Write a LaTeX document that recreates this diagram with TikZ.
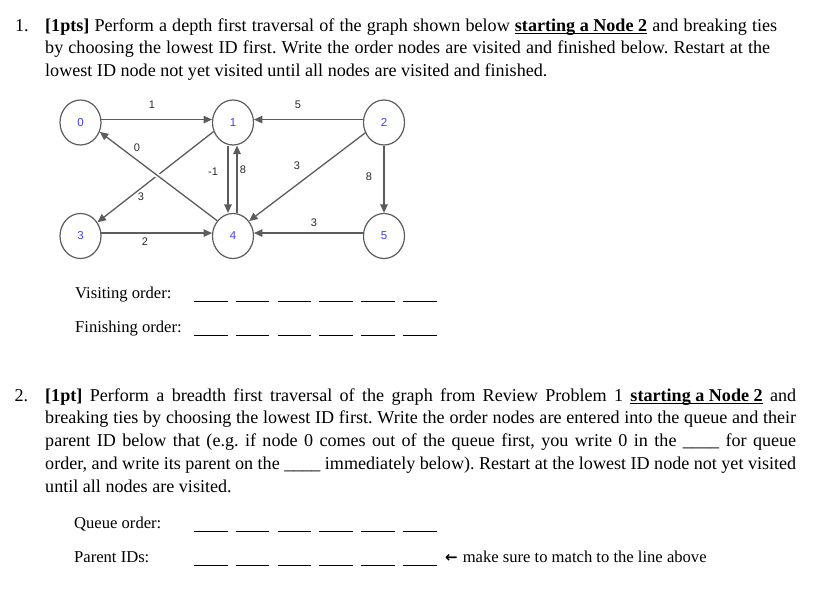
\documentclass[tikz,border=0pt]{standalone}
\usepackage{fontspec}
\setmainfont{Liberation Serif}
\newfontfamily\graphfont{Liberation Sans}
\newfontfamily\arrowfont{DejaVu Sans}
\usetikzlibrary{arrows.meta,shapes.geometric}
\definecolor{edgegray}{RGB}{92,92,92}
\definecolor{idblue}{RGB}{64,64,240}
\definecolor{wtink}{RGB}{45,40,35}
\newcommand\ulbold[1]{\setbox0=\hbox{\bfseries #1}\rlap{\rule[-3pt]{\wd0}{1.4pt}}\box0\relax}
\newcommand\blank{\_\_\_\_}

\begin{document}
\frenchspacing
\begin{tikzpicture}[x=1pt,y=-1pt,>={Triangle[length=8.5pt,width=7.5pt]},line join=round,
  txt/.style={anchor=base west,inner sep=0pt,font=\fontsize{18.1}{22.5}\selectfont},
  lbl/.style={anchor=base west,inner sep=0pt,font=\fontsize{16.6}{20}\selectfont},
  vtx/.style={ellipse,draw=edgegray,line width=1.2pt,minimum width=41pt,minimum height=45pt,
    inner sep=0pt,text=idblue,font=\graphfont\fontsize{11.5}{11.5}\selectfont},
  edge/.style={draw=edgegray,line width=1.3pt,->},
  wt/.style={text=wtink,inner sep=0pt,font=\graphfont\fontsize{11}{11}\selectfont}]
  \useasboundingbox (0,0) rectangle (817,610);

  \node[txt] (q1num) at (15,31.5) {1.};
  \node[txt] (q1a) at (45,31.5) {\makebox[732pt][s]{\textbf{[1pts]} Perform a depth first traversal of the graph shown below \ulbold{starting a Node 2} and breaking ties}};
  \node[txt] (q1b) at (45,54) {\makebox[725pt][s]{by choosing the lowest ID first. Write the order nodes are visited and finished below. Restart at the}};
  \node[txt] (q1c) at (45,76.5) {lowest ID node not yet visited until all nodes are visited and finished.};

  \foreach \n/\x/\y in {0/80.5/122.5,1/233/122.5,2/384/122.5,3/80.5/236,4/233/236,5/384/236}
    {\node[vtx] (n\n) at (\x,\y) {\n};}
  \draw[edge] (n0.8) -- (n1.172);
  \draw[edge] (n2.172) -- (n1.8);
  \draw[edge] (n3.8) -- (n4.172);
  \draw[edge] (n5.172) -- (n4.8);
  \draw[edge] ([xshift=-5pt]n1.south) -- ([xshift=-5pt]n4.north);
  \draw[edge] ([xshift=4pt]n4.north) -- ([xshift=4pt]n1.south);
  \draw[edge] (n2.209) -- (n4.43);
  \draw[edge] (n2) -- (n5);
  \draw[edge] (n1.205) -- (n3.39);
  \draw[edge,preaction={draw=white,line width=5pt,-,shorten <=5pt,shorten >=5pt}] (n4.136) -- (n0.334);
  \node[wt] (w01) at (152,105) {1};
  \node[wt] (w21) at (298,105) {5};
  \node[wt] (w40) at (137,148) {0};
  \node[wt] (w13) at (141,197) {3};
  \node[wt] (w14) at (213,172) {-1};
  \node[wt] (w41) at (243,170) {8};
  \node[wt] (w24) at (297,166) {3};
  \node[wt] (w25) at (369,177) {8};
  \node[wt] (w54) at (314,223) {3};
  \node[wt] (w34) at (145,242) {2};

  \node[lbl] (visit) at (75,298) {Visiting order:};
  \node[lbl] (finish) at (75,332.5) {Finishing order:};
  \foreach \row in {301.5,335.5,531.5,565}
    \foreach \i in {0,...,5}
      {\draw[line width=0.8pt] (194+\i*41.8,\row) -- ++(33.5,0);}

  \node[txt] (q2num) at (14.5,401) {2.};
  \node[txt] (q2a) at (45,401) {\makebox[751pt][s]{\textbf{[1pt]} Perform a breadth first traversal of the graph from Review Problem 1 \ulbold{starting a Node 2} and}};
  \node[txt] (q2b) at (45,423.5) {\makebox[751pt][s]{breaking ties by choosing the lowest ID first. Write the order nodes are entered into the queue and their}};
  \node[txt] (q2c) at (45,446.5) {\makebox[751pt][s]{parent ID below that (e.g. if node 0 comes out of the queue first, you write 0 in the \blank\ for queue}};
  \node[txt] (q2d) at (45,469.5) {\makebox[751pt][s]{order, and write its parent on the \blank\ immediately below). Restart at the lowest ID node not yet visited}};
  \node[txt] (q2e) at (45,492.5) {until all nodes are visited.};

  \node[lbl] (queue) at (74,528.5) {Queue order:};
  \node[lbl] (parent) at (74,562) {Parent IDs:};
  \node[lbl] (note) at (445,562) {{\arrowfont\bfseries\fontsize{15}{15}\selectfont ←}\hspace{5pt}make sure to match to the line above};
\end{tikzpicture}
\end{document}
